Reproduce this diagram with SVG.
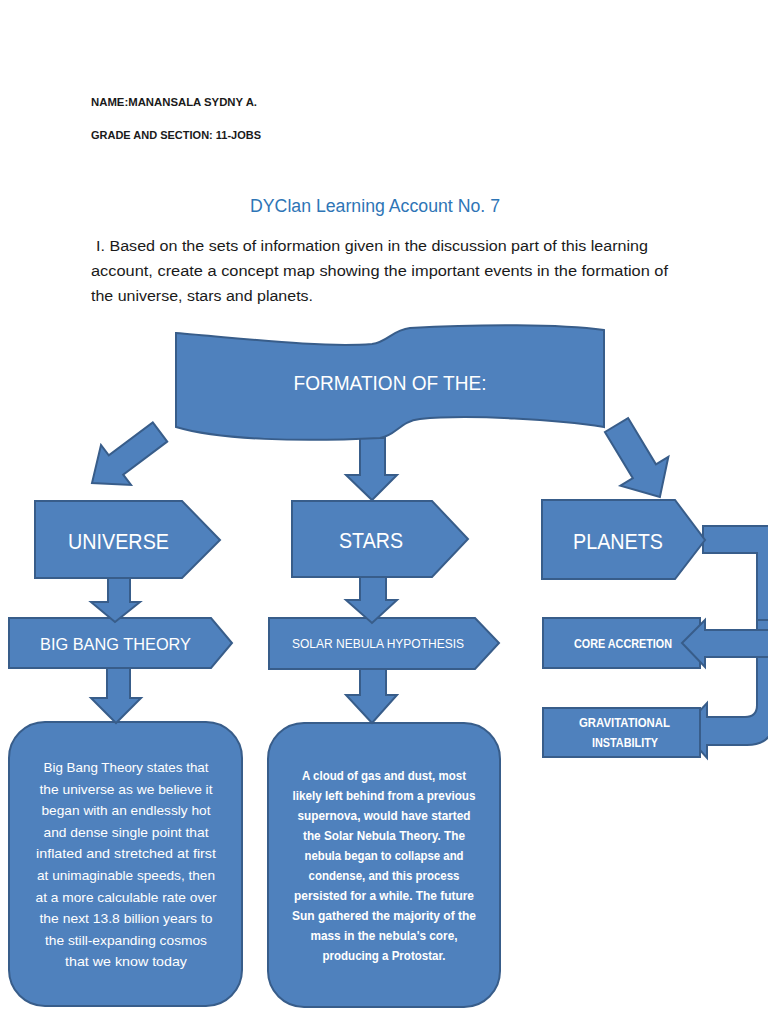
<svg xmlns="http://www.w3.org/2000/svg" width="768" height="1024" viewBox="0 0 768 1024">
<style>
.sh{fill:#4F81BD;stroke:#385D8A;stroke-width:2;stroke-linejoin:miter}
.t{font-family:"Liberation Sans",Arial,sans-serif;fill:#ffffff;text-anchor:middle}
.h{font-family:"Liberation Sans",Arial,sans-serif;fill:#1a1a1a}
.b{font-weight:bold}
</style>
<rect width="768" height="1024" fill="#ffffff"/>
<g id="header">
<text class="h b" x="91" y="106" font-size="11" textLength="166" lengthAdjust="spacingAndGlyphs">NAME:MANANSALA SYDNY A.</text>
<text class="h b" x="91" y="139" font-size="11" textLength="170" lengthAdjust="spacingAndGlyphs">GRADE AND SECTION: 11-JOBS</text>
<text x="250" y="212" font-family="Liberation Sans,Arial,sans-serif" font-size="18" fill="#2E75B6" textLength="250" lengthAdjust="spacingAndGlyphs">DYClan Learning Account No. 7</text>
<text class="h" x="96" y="251" font-size="15.5" textLength="552" lengthAdjust="spacingAndGlyphs">I. Based on the sets of information given in the discussion part of this learning</text>
<text class="h" x="91" y="276" font-size="15.5" textLength="577" lengthAdjust="spacingAndGlyphs">account, create a concept map showing the important events in the formation of</text>
<text class="h" x="91" y="301" font-size="15.5" textLength="222" lengthAdjust="spacingAndGlyphs">the universe, stars and planets.</text>
</g>
<g id="connectors">
<polygon class="sh" points="0,-12 55,-12 55,-25 85,0 55,25 55,12 0,12" transform="translate(160,432) rotate(143.13)"/>
<polygon class="sh" points="0,-13.5 54,-13.5 54,-28 84,0 54,28 54,13.5 0,13.5" transform="translate(616.5,425) rotate(58.9)"/>
<polygon class="sh" points="360,438 385,438 385,475 397,475 372,500 346,475 360,475"/>
<path class="sh" d="M703,526 H775 V620 H757 V553 H703 Z"/>
<path class="sh" d="M757,620 H774 V718 Q774,745 747,745 H707 V758 L682,730 L707,703 V717 H745 Q757,717 757,705 Z"/>
</g>
<g id="banner">
<path class="sh" d="M176,333 C240,338 320,348 372,344 C388,342 392,330 410,328 C480,324 560,324 604,330 L604,427 C560,420 470,414 420,419 C400,421 396,436 380,438 C300,442 220,440 176,427 Z"/>
<text class="t" x="390" y="390" font-size="20" textLength="193" lengthAdjust="spacingAndGlyphs">FORMATION OF THE:</text>
</g>
<g id="universe">
<polygon class="sh" points="35,501 182,501 220,540 182,578 35,578"/>
<text class="t" x="118.5" y="549" font-size="22" textLength="101" lengthAdjust="spacingAndGlyphs">UNIVERSE</text>
</g>
<g id="stars">
<polygon class="sh" points="292,501 432,501 468,539 432,577 292,577"/>
<text class="t" x="371" y="548" font-size="22" textLength="64" lengthAdjust="spacingAndGlyphs">STARS</text>
</g>
<g id="planets">
<polygon class="sh" points="542,500 675,500 705,540 675,579 542,579"/>
<text class="t" x="618" y="549" font-size="22" textLength="90" lengthAdjust="spacingAndGlyphs">PLANETS</text>
</g>
<g id="bigbang">
<polygon class="sh" points="9,618 211,618 232,643 211,668 9,668"/>
<text class="t" x="115.5" y="650" font-size="17" textLength="151" lengthAdjust="spacingAndGlyphs">BIG BANG THEORY</text>
</g>
<g id="solarnebula">
<polygon class="sh" points="269,618 475,618 499,643 475,669 269,669"/>
<text class="t" x="378" y="648" font-size="12.5" textLength="172" lengthAdjust="spacingAndGlyphs">SOLAR NEBULA HYPOTHESIS</text>
</g>
<g id="coreaccretion">
<rect class="sh" x="543" y="618" width="157" height="50"/>
<text class="t b" x="623" y="648" font-size="12.5" textLength="98" lengthAdjust="spacingAndGlyphs">CORE ACCRETION</text>
</g>
<g id="gravitational">
<rect class="sh" x="543" y="708" width="157" height="49"/>
<text class="t b" x="624.5" y="727" font-size="12.5" textLength="91" lengthAdjust="spacingAndGlyphs">GRAVITATIONAL</text>
<text class="t b" x="625" y="747" font-size="12.5" textLength="66" lengthAdjust="spacingAndGlyphs">INSTABILITY</text>
</g>
<g id="connectors-2">
<path class="sh" d="M775,630 H705 V620 L682,643 L705,667 V657 H775 Z"/>
<polygon class="sh" points="108,578 130,578 130,602 140,602 115,622 91,602 108,602"/>
<polygon class="sh" points="360,577 386,577 386,600 397,600 372,623 346,600 360,600"/>
</g>
<g id="universe-desc">
<rect class="sh" x="9" y="722" width="233" height="284" rx="36" ry="36"/>
<g class="t" font-size="13.5">
<text x="126" y="772" textLength="165" lengthAdjust="spacingAndGlyphs">Big Bang Theory states that</text>
<text x="126" y="793.6" textLength="173" lengthAdjust="spacingAndGlyphs">the universe as we believe it</text>
<text x="126" y="815.2" textLength="169" lengthAdjust="spacingAndGlyphs">began with an endlessly hot</text>
<text x="126" y="836.8" textLength="165" lengthAdjust="spacingAndGlyphs">and dense single point that</text>
<text x="126" y="858.4" textLength="180" lengthAdjust="spacingAndGlyphs">inflated and stretched  at first</text>
<text x="126" y="880" textLength="178" lengthAdjust="spacingAndGlyphs">at unimaginable speeds, then</text>
<text x="126" y="901.6" textLength="181" lengthAdjust="spacingAndGlyphs">at a more calculable rate over</text>
<text x="126" y="923.2" textLength="173" lengthAdjust="spacingAndGlyphs">the next 13.8 billion years to</text>
<text x="126" y="944.8" textLength="162" lengthAdjust="spacingAndGlyphs">the still-expanding cosmos</text>
<text x="126" y="966.4" textLength="122" lengthAdjust="spacingAndGlyphs">that we know today</text>
</g>
</g>
<g id="stars-desc">
<rect class="sh" x="268" y="723" width="232" height="284" rx="36" ry="36"/>
<g class="t b" font-size="12.5">
<text x="384" y="779.5" textLength="164" lengthAdjust="spacingAndGlyphs">A cloud of gas and dust, most</text>
<text x="384" y="799.5" textLength="183" lengthAdjust="spacingAndGlyphs">likely left behind from a previous</text>
<text x="384" y="819.5" textLength="173" lengthAdjust="spacingAndGlyphs">supernova, would have started</text>
<text x="384" y="839.5" textLength="162" lengthAdjust="spacingAndGlyphs">the Solar Nebula Theory. The</text>
<text x="384" y="859.5" textLength="159" lengthAdjust="spacingAndGlyphs">nebula began to collapse and</text>
<text x="384" y="879.5" textLength="151" lengthAdjust="spacingAndGlyphs">condense, and this process</text>
<text x="384" y="899.5" textLength="180" lengthAdjust="spacingAndGlyphs">persisted for a while. The future</text>
<text x="384" y="919.5" textLength="184" lengthAdjust="spacingAndGlyphs">Sun gathered the majority of the</text>
<text x="384" y="939.5" textLength="147" lengthAdjust="spacingAndGlyphs">mass in the nebula's core,</text>
<text x="384" y="959.5" textLength="123" lengthAdjust="spacingAndGlyphs">producing a Protostar.</text>
</g>
</g>
<g id="connectors-3">
<polygon class="sh" points="107,668 130,668 130,698 141,698 116,723 91,698 107,698"/>
<polygon class="sh" points="360,669 386,669 386,695 397,695 372,723 346,695 360,695"/>
</g>
</svg>
